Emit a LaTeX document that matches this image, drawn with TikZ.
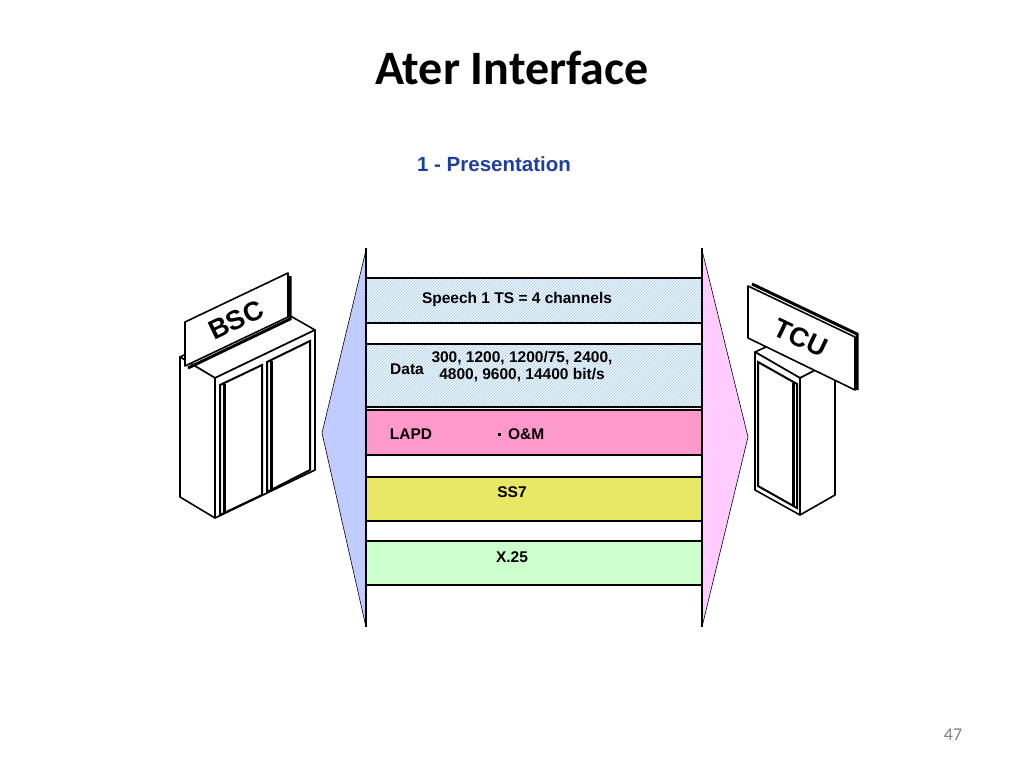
\documentclass[tikz,border=0pt]{standalone}
\usepackage{fontspec}
\setmainfont{Liberation Sans}
\newfontfamily\titlefont{Carlito}
\usetikzlibrary{patterns}
\definecolor{hatchblue}{HTML}{A8CCE4}
\definecolor{hatchbg}{HTML}{EEF6FF}
\definecolor{lapdpink}{HTML}{FF99CC}
\definecolor{ssyellow}{HTML}{E8E866}
\definecolor{xgreen}{HTML}{CCFFCC}
\definecolor{leftblue}{HTML}{C0CCFF}
\definecolor{rightpink}{HTML}{FFCCFF}
\definecolor{presblue}{HTML}{1F3FA0}
\tikzset{
    band/.style = {draw, line width=2.5pt},
    bandtext/.style = {font=\fontsize{15.5}{17}\selectfont\bfseries, inner sep=1pt},
    cabinet/.style = {draw, line width=1.6pt, fill=white, line join=round},
    signtext/.style = {font=\fontsize{27}{27}\selectfont\bfseries, inner sep=0pt}
}
\begin{document}
\begin{tikzpicture} [x=1pt, y=-1pt]

    \useasboundingbox (0,0) rectangle (1024,768);

    \node [font=\titlefont\fontsize{48}{52}\selectfont\bfseries] (title) at (512,68) {Ater Interface};
    \node [font=\fontsize{20.5}{22}\selectfont\bfseries, text=presblue] (pres) at (494,164) {1 - Presentation};

    % side wedges
    \fill [leftblue] (366,250) -- (322,433) -- (366,627) -- cycle;
    \fill [rightpink] (702,250) -- (748,437) -- (702,627) -- cycle;
    \draw [line width=0.6pt] (366,250) -- (322,433) -- (366,627);
    \draw [line width=0.6pt] (702,250) -- (748,437) -- (702,627);

    % bands
    \fill [hatchbg] (366,278) rectangle (702,323);
    \fill [pattern=north east lines, pattern color=hatchblue] (366,278) rectangle (702,323);
    \fill [hatchbg] (366,344) rectangle (702,407);
    \fill [pattern=north east lines, pattern color=hatchblue] (366,344) rectangle (702,407);
    \fill [lapdpink] (366,410) rectangle (702,455);
    \fill [ssyellow] (366,477) rectangle (702,521);
    \fill [xgreen] (366,541) rectangle (702,585);
    \foreach \y in {278,323,344,407,410,455,477,521,541,585}
        \draw [band] (366,\y) -- (702,\y);
    \draw [line width=2.5pt] (366,248) -- (366,627);
    \draw [line width=2.5pt] (702,248) -- (702,627);

    \node [bandtext] (speech) at (517,299) {Speech 1 TS = 4 channels};
    \node [bandtext] (data) at (407,369) {Data};
    \node [bandtext, align=center] (rates) at (522,367) {300, 1200, 1200/75, 2400,\\4800, 9600, 14400 bit/s};
    \node [bandtext] (lapd) at (411,434) {LAPD};
    \node [bandtext] (om) at (521,434) {\rule[3pt]{3.5pt}{3.5pt}\, O\&M};
    \node [bandtext] (ss7) at (512,492) {SS7};
    \node [bandtext] (x25) at (512,557) {X.25};

    % BSC cabinet
    \draw [cabinet] (180,357) -- (280,310) -- (315,330) -- (215,378) -- cycle;
    \draw [cabinet] (180,357) -- (215,378) -- (215,518) -- (180,497) -- cycle;
    \draw [cabinet] (215,378) -- (315,330) -- (315,470) -- (215,518) -- cycle;
    \draw [line width=2pt] (220,385) -- (262,365) -- (262,495) -- (220,515) -- cycle;
    \draw [line width=2pt] (267,362) -- (310,341) -- (310,470) -- (267,492) -- cycle;
    \draw [line width=3pt] (224,384) -- (224,512);
    \draw [line width=3pt] (271,361) -- (271,490);
    \draw [cabinet] (185,322) -- (288,273) -- (288,317) -- (185,366) -- cycle;
    \draw [line width=3pt] (188,368) -- (290,319) -- (290,276);
    \node [signtext, rotate=25.5] (bsc) at (236,320) {BSC};

    % TCU cabinet
    \draw [cabinet] (755,352) -- (790,336) -- (835,360) -- (800,378) -- cycle;
    \draw [cabinet] (755,352) -- (800,378) -- (800,515) -- (755,490) -- cycle;
    \draw [cabinet] (800,378) -- (835,360) -- (835,495) -- (800,515) -- cycle;
    \draw [line width=2pt] (758,362) -- (797,384) -- (797,508) -- (758,486) -- cycle;
    \draw [line width=3pt] (793,383) -- (793,506);
    \draw [cabinet] (748,286) -- (855,337) -- (855,390) -- (748,338) -- cycle;
    \draw [line width=3pt] (752,284) -- (857,334) -- (857,390);
    \node [signtext, rotate=-25.5] (tcu) at (801,338) {TCU};

    \node [font=\titlefont\fontsize{18}{20}\selectfont, text=gray] (page) at (953,735) {47};

\end{tikzpicture}
\end{document}
